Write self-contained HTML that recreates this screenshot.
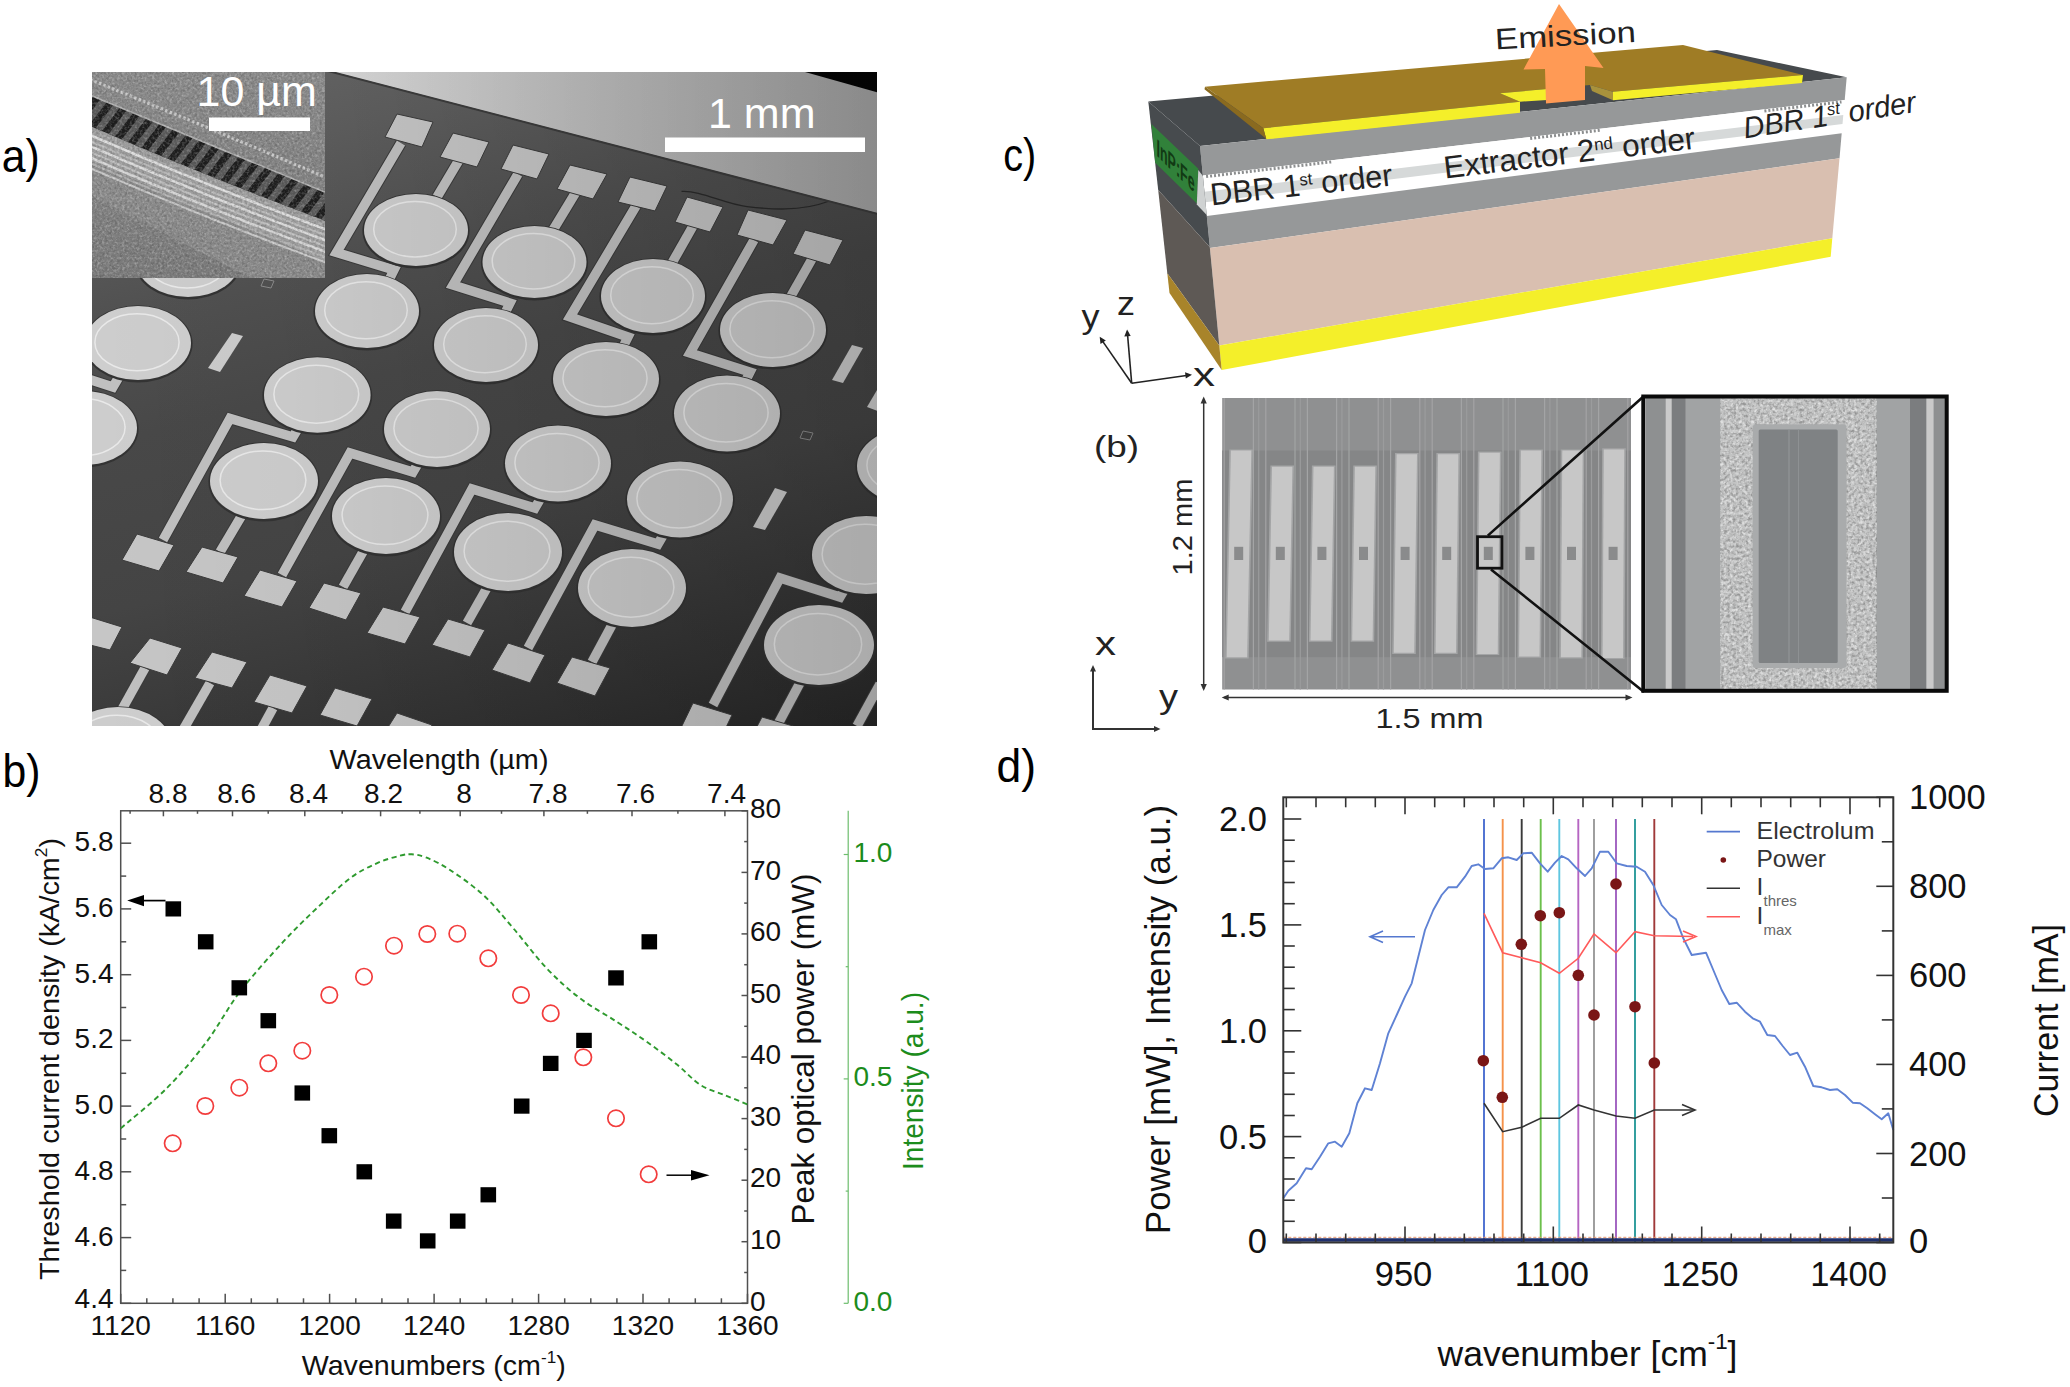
<!DOCTYPE html>
<html><head><meta charset="utf-8"><title>Figure</title>
<style>
html,body{margin:0;padding:0;background:#fff;}
body{width:2070px;height:1387px;overflow:hidden;font-family:"Liberation Sans",sans-serif;}
svg{display:block;position:absolute;left:0;top:0;}
text{font-family:"Liberation Sans",sans-serif;}
</style></head><body>
<svg width="2070" height="1387" viewBox="0 0 2070 1387">
<rect width="2070" height="1387" fill="#fff"/>
<defs>
<clipPath id="aclip"><rect x="92" y="72" width="785" height="654"/></clipPath>
<clipPath id="insclip"><rect x="92" y="72" width="233" height="206"/></clipPath>
<linearGradient id="abg" gradientUnits="userSpaceOnUse" x1="92" y1="72" x2="292" y2="872.3"><stop offset="0" stop-color="#686868"/><stop offset="0.14" stop-color="#5e5e5e"/><stop offset="0.3" stop-color="#505050"/><stop offset="0.44" stop-color="#484848"/><stop offset="0.64" stop-color="#444"/><stop offset="0.75" stop-color="#3c3c3c"/><stop offset="0.88" stop-color="#323232"/><stop offset="1" stop-color="#282828"/></linearGradient>
<linearGradient id="asub" x1="0" y1="0" x2="1" y2="0"><stop offset="0" stop-color="#dadada"/><stop offset="0.5" stop-color="#bebebe"/><stop offset="1" stop-color="#a6a6a6"/></linearGradient>
<linearGradient id="insbg" x1="0" y1="0" x2="0" y2="1"><stop offset="0" stop-color="#8a8a8a"/><stop offset="1" stop-color="#7a7a7a"/></linearGradient>
<linearGradient id="adark" x1="0" y1="0" x2="1" y2="0"><stop offset="0" stop-color="#000" stop-opacity="0"/><stop offset="0.25" stop-color="#000" stop-opacity="0.02"/><stop offset="1" stop-color="#000" stop-opacity="0.17"/></linearGradient>
<filter id="anw" x="0" y="0" width="100%" height="100%" color-interpolation-filters="sRGB"><feTurbulence type="fractalNoise" baseFrequency="0.4" numOctaves="2" seed="7"/><feColorMatrix type="matrix" values="0 0 0 0 1  0 0 0 0 1  0 0 0 0 1  2.4 0 0 0 -1.05"/></filter>
<filter id="anb" x="0" y="0" width="100%" height="100%" color-interpolation-filters="sRGB"><feTurbulence type="fractalNoise" baseFrequency="0.4" numOctaves="2" seed="19"/><feColorMatrix type="matrix" values="0 0 0 0 0.2  0 0 0 0 0.2  0 0 0 0 0.2  2.4 0 0 0 -1.05"/></filter>
</defs>
<g clip-path="url(#aclip)">
<rect x="92" y="72" width="785" height="654" fill="url(#abg)"/>
<polygon points="326.0,70.0 880.0,70.0 880.0,214.0" fill="url(#asub)" />
<polygon points="805.0,72.0 880.0,72.0 880.0,93.0" fill="#050505" />
<polyline points="459.0,160.0 437.0,197.0" fill="none" stroke="#3a3a3a" stroke-width="11.5" stroke-linejoin="miter" />
<polyline points="576.0,192.0 553.0,230.0" fill="none" stroke="#3a3a3a" stroke-width="11.5" stroke-linejoin="miter" />
<polyline points="693.0,226.0 672.0,263.0" fill="none" stroke="#3a3a3a" stroke-width="11.5" stroke-linejoin="miter" />
<polyline points="812.0,259.0 791.0,296.0" fill="none" stroke="#3a3a3a" stroke-width="11.5" stroke-linejoin="miter" />
<polyline points="401.0,143.0 336.5,252.5 394.0,270.0 388.0,282.0" fill="none" stroke="#3a3a3a" stroke-width="11.5" stroke-linejoin="miter" />
<polyline points="518.0,174.0 453.0,285.0 510.0,303.0 504.0,315.0" fill="none" stroke="#3a3a3a" stroke-width="11.5" stroke-linejoin="miter" />
<polyline points="636.0,206.0 570.0,317.0 628.0,337.0 622.0,349.0" fill="none" stroke="#3a3a3a" stroke-width="11.5" stroke-linejoin="miter" />
<polyline points="754.0,240.0 690.0,353.0 750.0,372.0 744.0,384.0" fill="none" stroke="#3a3a3a" stroke-width="11.5" stroke-linejoin="miter" />
<polyline points="220.0,552.0 242.0,515.0" fill="none" stroke="#3a3a3a" stroke-width="11.5" stroke-linejoin="miter" />
<polyline points="343.0,587.0 364.0,550.0" fill="none" stroke="#3a3a3a" stroke-width="11.5" stroke-linejoin="miter" />
<polyline points="467.0,623.0 488.0,586.0" fill="none" stroke="#3a3a3a" stroke-width="11.5" stroke-linejoin="miter" />
<polyline points="592.0,662.0 613.0,623.0" fill="none" stroke="#3a3a3a" stroke-width="11.5" stroke-linejoin="miter" />
<polyline points="777.0,726.0 801.0,681.0" fill="none" stroke="#3a3a3a" stroke-width="11.5" stroke-linejoin="miter" />
<polyline points="857.0,726.0 880.0,684.0" fill="none" stroke="#3a3a3a" stroke-width="11.5" stroke-linejoin="miter" />
<polyline points="163.0,540.0 230.0,418.5 293.0,437.0 300.0,425.0" fill="none" stroke="#3a3a3a" stroke-width="11.5" stroke-linejoin="miter" />
<polyline points="282.0,575.0 350.0,453.0 413.0,472.0 420.0,460.0" fill="none" stroke="#3a3a3a" stroke-width="11.5" stroke-linejoin="miter" />
<polyline points="405.0,612.0 472.0,489.0 535.0,508.0 542.0,496.0" fill="none" stroke="#3a3a3a" stroke-width="11.5" stroke-linejoin="miter" />
<polyline points="528.0,648.0 595.0,525.0 658.0,544.0 665.0,532.0" fill="none" stroke="#3a3a3a" stroke-width="11.5" stroke-linejoin="miter" />
<polyline points="713.0,705.0 780.0,578.0 840.0,597.0 847.0,585.0" fill="none" stroke="#3a3a3a" stroke-width="11.5" stroke-linejoin="miter" />
<polyline points="145.0,668.0 115.0,722.0" fill="none" stroke="#3a3a3a" stroke-width="11.5" stroke-linejoin="miter" />
<polyline points="210.0,683.0 183.0,730.0" fill="none" stroke="#3a3a3a" stroke-width="11.5" stroke-linejoin="miter" />
<polyline points="273.0,708.0 261.0,730.0" fill="none" stroke="#3a3a3a" stroke-width="11.5" stroke-linejoin="miter" />
<polyline points="85.0,378.0 113.0,387.0 120.0,375.0" fill="none" stroke="#3a3a3a" stroke-width="11.5" stroke-linejoin="miter" />
<polyline points="459.0,160.0 437.0,197.0" fill="none" stroke="#c0c0c0" stroke-width="9.5" stroke-linejoin="miter" />
<polyline points="576.0,192.0 553.0,230.0" fill="none" stroke="#c0c0c0" stroke-width="9.5" stroke-linejoin="miter" />
<polyline points="693.0,226.0 672.0,263.0" fill="none" stroke="#c0c0c0" stroke-width="9.5" stroke-linejoin="miter" />
<polyline points="812.0,259.0 791.0,296.0" fill="none" stroke="#c0c0c0" stroke-width="9.5" stroke-linejoin="miter" />
<polyline points="401.0,143.0 336.5,252.5 394.0,270.0 388.0,282.0" fill="none" stroke="#c0c0c0" stroke-width="9.5" stroke-linejoin="miter" />
<polyline points="518.0,174.0 453.0,285.0 510.0,303.0 504.0,315.0" fill="none" stroke="#c0c0c0" stroke-width="9.5" stroke-linejoin="miter" />
<polyline points="636.0,206.0 570.0,317.0 628.0,337.0 622.0,349.0" fill="none" stroke="#c0c0c0" stroke-width="9.5" stroke-linejoin="miter" />
<polyline points="754.0,240.0 690.0,353.0 750.0,372.0 744.0,384.0" fill="none" stroke="#c0c0c0" stroke-width="9.5" stroke-linejoin="miter" />
<polyline points="220.0,552.0 242.0,515.0" fill="none" stroke="#c0c0c0" stroke-width="9.5" stroke-linejoin="miter" />
<polyline points="343.0,587.0 364.0,550.0" fill="none" stroke="#c0c0c0" stroke-width="9.5" stroke-linejoin="miter" />
<polyline points="467.0,623.0 488.0,586.0" fill="none" stroke="#c0c0c0" stroke-width="9.5" stroke-linejoin="miter" />
<polyline points="592.0,662.0 613.0,623.0" fill="none" stroke="#c0c0c0" stroke-width="9.5" stroke-linejoin="miter" />
<polyline points="777.0,726.0 801.0,681.0" fill="none" stroke="#c0c0c0" stroke-width="9.5" stroke-linejoin="miter" />
<polyline points="857.0,726.0 880.0,684.0" fill="none" stroke="#c0c0c0" stroke-width="9.5" stroke-linejoin="miter" />
<polyline points="163.0,540.0 230.0,418.5 293.0,437.0 300.0,425.0" fill="none" stroke="#c0c0c0" stroke-width="9.5" stroke-linejoin="miter" />
<polyline points="282.0,575.0 350.0,453.0 413.0,472.0 420.0,460.0" fill="none" stroke="#c0c0c0" stroke-width="9.5" stroke-linejoin="miter" />
<polyline points="405.0,612.0 472.0,489.0 535.0,508.0 542.0,496.0" fill="none" stroke="#c0c0c0" stroke-width="9.5" stroke-linejoin="miter" />
<polyline points="528.0,648.0 595.0,525.0 658.0,544.0 665.0,532.0" fill="none" stroke="#c0c0c0" stroke-width="9.5" stroke-linejoin="miter" />
<polyline points="713.0,705.0 780.0,578.0 840.0,597.0 847.0,585.0" fill="none" stroke="#c0c0c0" stroke-width="9.5" stroke-linejoin="miter" />
<polyline points="145.0,668.0 115.0,722.0" fill="none" stroke="#c0c0c0" stroke-width="9.5" stroke-linejoin="miter" />
<polyline points="210.0,683.0 183.0,730.0" fill="none" stroke="#c0c0c0" stroke-width="9.5" stroke-linejoin="miter" />
<polyline points="273.0,708.0 261.0,730.0" fill="none" stroke="#c0c0c0" stroke-width="9.5" stroke-linejoin="miter" />
<polyline points="85.0,378.0 113.0,387.0 120.0,375.0" fill="none" stroke="#c0c0c0" stroke-width="9.5" stroke-linejoin="miter" />
<polygon points="397.0,114.0 433.0,122.0 422.0,147.0 385.0,137.0" fill="#c6c6c6" stroke="#3a3a3a" stroke-width="1"/>
<polygon points="453.0,133.0 489.0,142.0 477.0,167.0 440.0,157.0" fill="#c6c6c6" stroke="#3a3a3a" stroke-width="1"/>
<polygon points="513.0,145.0 549.0,154.0 537.0,179.0 501.0,169.0" fill="#c6c6c6" stroke="#3a3a3a" stroke-width="1"/>
<polygon points="570.0,165.0 607.0,174.0 593.0,199.0 557.0,189.0" fill="#c6c6c6" stroke="#3a3a3a" stroke-width="1"/>
<polygon points="630.0,177.0 667.0,186.0 655.0,211.0 618.0,202.0" fill="#c6c6c6" stroke="#3a3a3a" stroke-width="1"/>
<polygon points="687.0,197.0 723.0,207.0 710.0,232.0 675.0,222.0" fill="#c6c6c6" stroke="#3a3a3a" stroke-width="1"/>
<polygon points="748.0,210.0 787.0,220.0 773.0,245.0 737.0,235.0" fill="#c6c6c6" stroke="#3a3a3a" stroke-width="1"/>
<polygon points="805.0,230.0 843.0,240.0 830.0,265.0 793.0,254.0" fill="#c6c6c6" stroke="#3a3a3a" stroke-width="1"/>
<polygon points="137.0,534.0 174.0,545.0 159.0,571.0 122.0,560.0" fill="#c6c6c6" stroke="#3a3a3a" stroke-width="1"/>
<polygon points="202.0,547.0 238.0,557.0 223.0,583.0 186.0,572.0" fill="#c6c6c6" stroke="#3a3a3a" stroke-width="1"/>
<polygon points="260.0,570.0 297.0,581.0 282.0,607.0 244.0,596.0" fill="#c6c6c6" stroke="#3a3a3a" stroke-width="1"/>
<polygon points="324.0,583.0 361.0,593.0 346.0,620.0 309.0,608.0" fill="#c6c6c6" stroke="#3a3a3a" stroke-width="1"/>
<polygon points="383.0,607.0 420.0,617.0 405.0,644.0 367.0,633.0" fill="#c6c6c6" stroke="#3a3a3a" stroke-width="1"/>
<polygon points="448.0,619.0 485.0,630.0 470.0,657.0 432.0,645.0" fill="#c6c6c6" stroke="#3a3a3a" stroke-width="1"/>
<polygon points="508.0,643.0 545.0,655.0 530.0,683.0 492.0,670.0" fill="#c6c6c6" stroke="#3a3a3a" stroke-width="1"/>
<polygon points="572.0,657.0 610.0,668.0 595.0,696.0 557.0,683.0" fill="#c6c6c6" stroke="#3a3a3a" stroke-width="1"/>
<polygon points="693.0,703.0 732.0,715.0 720.0,740.0 680.0,730.0" fill="#c6c6c6" stroke="#3a3a3a" stroke-width="1"/>
<polygon points="762.0,717.0 800.0,728.0 790.0,750.0 750.0,740.0" fill="#c6c6c6" stroke="#3a3a3a" stroke-width="1"/>
<polygon points="80.0,614.0 122.0,627.0 110.0,650.0 70.0,640.0" fill="#c6c6c6" stroke="#3a3a3a" stroke-width="1"/>
<polygon points="150.0,638.0 182.0,648.0 167.0,675.0 130.0,663.0" fill="#c6c6c6" stroke="#3a3a3a" stroke-width="1"/>
<polygon points="212.0,652.0 247.0,662.0 232.0,688.0 195.0,678.0" fill="#c6c6c6" stroke="#3a3a3a" stroke-width="1"/>
<polygon points="270.0,675.0 307.0,686.0 292.0,713.0 254.0,702.0" fill="#c6c6c6" stroke="#3a3a3a" stroke-width="1"/>
<polygon points="335.0,688.0 372.0,699.0 357.0,726.0 320.0,715.0" fill="#c6c6c6" stroke="#3a3a3a" stroke-width="1"/>
<polygon points="397.0,713.0 432.0,725.0 420.0,750.0 380.0,740.0" fill="#c6c6c6" stroke="#3a3a3a" stroke-width="1"/>
<polygon points="208.0,368.0 232.0,333.0 243.0,336.0 220.0,372.0" fill="#cccccc" />
<polygon points="832.0,380.0 852.0,345.0 863.0,348.0 843.0,383.0" fill="#cccccc" />
<polygon points="753.0,527.0 775.0,488.0 787.0,492.0 765.0,530.0" fill="#cccccc" />
<polygon points="867.0,407.0 880.0,385.0 890.0,388.0 878.0,411.0" fill="#cccccc" />
<polygon points="264.0,279.0 274.0,281.0 271.0,288.0 261.0,286.0" fill="none" stroke="#8a8a8a" stroke-width="1"/>
<polygon points="803.0,431.0 813.0,433.0 810.0,440.0 800.0,438.0" fill="none" stroke="#8a8a8a" stroke-width="1"/>
<path d="M681.5,191.4 C700,190 725,204 747,206.6 S800,212 828,201.5" fill="none" stroke="#2a2a2a" stroke-width="1.3"/>
<line x1="326" y1="70.5" x2="880" y2="214.5" stroke="#3c3c3c" stroke-width="2"/>
<ellipse cx="188.0" cy="261.8" rx="53.6" ry="37.6" fill="#333"/>
<ellipse cx="188.0" cy="261.0" rx="52.0" ry="36.0" fill="#cecece"/>
<ellipse cx="187.0" cy="260.2" rx="41.3" ry="27.7" fill="#cdcdcd" stroke="#e9e9e9" stroke-width="1.5"/>
<ellipse cx="416.0" cy="230.8" rx="53.6" ry="37.6" fill="#333"/>
<ellipse cx="416.0" cy="230.0" rx="52.0" ry="36.0" fill="#cecece"/>
<ellipse cx="415.0" cy="229.2" rx="41.3" ry="27.7" fill="#cdcdcd" stroke="#e9e9e9" stroke-width="1.5"/>
<ellipse cx="534.5" cy="262.8" rx="53.6" ry="37.6" fill="#333"/>
<ellipse cx="534.5" cy="262.0" rx="52.0" ry="36.0" fill="#cecece"/>
<ellipse cx="533.5" cy="261.2" rx="41.3" ry="27.7" fill="#cdcdcd" stroke="#e9e9e9" stroke-width="1.5"/>
<ellipse cx="653.0" cy="296.8" rx="53.6" ry="38.6" fill="#333"/>
<ellipse cx="653.0" cy="296.0" rx="52.0" ry="37.0" fill="#cecece"/>
<ellipse cx="652.0" cy="295.2" rx="41.3" ry="28.5" fill="#cdcdcd" stroke="#e9e9e9" stroke-width="1.5"/>
<ellipse cx="773.0" cy="330.8" rx="54.6" ry="38.6" fill="#333"/>
<ellipse cx="773.0" cy="330.0" rx="53.0" ry="37.0" fill="#cecece"/>
<ellipse cx="772.0" cy="329.2" rx="42.1" ry="28.5" fill="#cdcdcd" stroke="#e9e9e9" stroke-width="1.5"/>
<ellipse cx="367.0" cy="311.8" rx="53.6" ry="38.6" fill="#333"/>
<ellipse cx="367.0" cy="311.0" rx="52.0" ry="37.0" fill="#cecece"/>
<ellipse cx="366.0" cy="310.2" rx="41.3" ry="28.5" fill="#cdcdcd" stroke="#e9e9e9" stroke-width="1.5"/>
<ellipse cx="486.0" cy="345.8" rx="53.6" ry="38.6" fill="#333"/>
<ellipse cx="486.0" cy="345.0" rx="52.0" ry="37.0" fill="#cecece"/>
<ellipse cx="485.0" cy="344.2" rx="41.3" ry="28.5" fill="#cdcdcd" stroke="#e9e9e9" stroke-width="1.5"/>
<ellipse cx="606.0" cy="379.8" rx="54.6" ry="38.6" fill="#333"/>
<ellipse cx="606.0" cy="379.0" rx="53.0" ry="37.0" fill="#cecece"/>
<ellipse cx="605.0" cy="378.2" rx="42.1" ry="28.5" fill="#cdcdcd" stroke="#e9e9e9" stroke-width="1.5"/>
<ellipse cx="727.0" cy="414.3" rx="54.6" ry="39.6" fill="#333"/>
<ellipse cx="727.0" cy="413.5" rx="53.0" ry="38.0" fill="#cecece"/>
<ellipse cx="726.0" cy="412.7" rx="42.1" ry="29.3" fill="#cdcdcd" stroke="#e9e9e9" stroke-width="1.5"/>
<ellipse cx="317.3" cy="395.8" rx="54.9" ry="39.3" fill="#333"/>
<ellipse cx="317.3" cy="395.0" rx="53.3" ry="37.7" fill="#cecece"/>
<ellipse cx="316.3" cy="394.2" rx="42.4" ry="29.0" fill="#cdcdcd" stroke="#e9e9e9" stroke-width="1.5"/>
<ellipse cx="437.0" cy="429.8" rx="54.6" ry="39.6" fill="#333"/>
<ellipse cx="437.0" cy="429.0" rx="53.0" ry="38.0" fill="#cecece"/>
<ellipse cx="436.0" cy="428.2" rx="42.1" ry="29.3" fill="#cdcdcd" stroke="#e9e9e9" stroke-width="1.5"/>
<ellipse cx="558.0" cy="464.3" rx="54.6" ry="39.6" fill="#333"/>
<ellipse cx="558.0" cy="463.5" rx="53.0" ry="38.0" fill="#cecece"/>
<ellipse cx="557.0" cy="462.7" rx="42.1" ry="29.3" fill="#cdcdcd" stroke="#e9e9e9" stroke-width="1.5"/>
<ellipse cx="680.0" cy="500.3" rx="54.6" ry="39.6" fill="#333"/>
<ellipse cx="680.0" cy="499.5" rx="53.0" ry="38.0" fill="#cecece"/>
<ellipse cx="679.0" cy="498.7" rx="42.1" ry="29.3" fill="#cdcdcd" stroke="#e9e9e9" stroke-width="1.5"/>
<ellipse cx="264.0" cy="481.8" rx="55.6" ry="39.6" fill="#333"/>
<ellipse cx="264.0" cy="481.0" rx="54.0" ry="38.0" fill="#cecece"/>
<ellipse cx="263.0" cy="480.2" rx="42.9" ry="29.3" fill="#cdcdcd" stroke="#e9e9e9" stroke-width="1.5"/>
<ellipse cx="386.0" cy="516.8" rx="55.6" ry="39.6" fill="#333"/>
<ellipse cx="386.0" cy="516.0" rx="54.0" ry="38.0" fill="#cecece"/>
<ellipse cx="385.0" cy="515.2" rx="42.9" ry="29.3" fill="#cdcdcd" stroke="#e9e9e9" stroke-width="1.5"/>
<ellipse cx="508.0" cy="552.8" rx="55.6" ry="40.6" fill="#333"/>
<ellipse cx="508.0" cy="552.0" rx="54.0" ry="39.0" fill="#cecece"/>
<ellipse cx="507.0" cy="551.2" rx="42.9" ry="30.0" fill="#cdcdcd" stroke="#e9e9e9" stroke-width="1.5"/>
<ellipse cx="632.0" cy="588.8" rx="55.6" ry="40.6" fill="#333"/>
<ellipse cx="632.0" cy="588.0" rx="54.0" ry="39.0" fill="#cecece"/>
<ellipse cx="631.0" cy="587.2" rx="42.9" ry="30.0" fill="#cdcdcd" stroke="#e9e9e9" stroke-width="1.5"/>
<ellipse cx="819.0" cy="645.8" rx="56.6" ry="41.6" fill="#333"/>
<ellipse cx="819.0" cy="645.0" rx="55.0" ry="40.0" fill="#cecece"/>
<ellipse cx="818.0" cy="644.2" rx="43.7" ry="30.8" fill="#cdcdcd" stroke="#e9e9e9" stroke-width="1.5"/>
<ellipse cx="138.0" cy="343.8" rx="54.6" ry="38.6" fill="#333"/>
<ellipse cx="138.0" cy="343.0" rx="53.0" ry="37.0" fill="#cecece"/>
<ellipse cx="137.0" cy="342.2" rx="42.1" ry="28.5" fill="#cdcdcd" stroke="#e9e9e9" stroke-width="1.5"/>
<ellipse cx="84.0" cy="428.8" rx="54.6" ry="38.6" fill="#333"/>
<ellipse cx="84.0" cy="428.0" rx="53.0" ry="37.0" fill="#cecece"/>
<ellipse cx="83.0" cy="427.2" rx="42.1" ry="28.5" fill="#cdcdcd" stroke="#e9e9e9" stroke-width="1.5"/>
<ellipse cx="910.0" cy="466.8" rx="54.6" ry="39.6" fill="#333"/>
<ellipse cx="910.0" cy="466.0" rx="53.0" ry="38.0" fill="#cecece"/>
<ellipse cx="909.0" cy="465.2" rx="42.1" ry="29.3" fill="#cdcdcd" stroke="#e9e9e9" stroke-width="1.5"/>
<ellipse cx="866.0" cy="555.8" rx="55.6" ry="40.6" fill="#333"/>
<ellipse cx="866.0" cy="555.0" rx="54.0" ry="39.0" fill="#cecece"/>
<ellipse cx="865.0" cy="554.2" rx="42.9" ry="30.0" fill="#cdcdcd" stroke="#e9e9e9" stroke-width="1.5"/>
<ellipse cx="118.0" cy="746.8" rx="55.6" ry="40.6" fill="#333"/>
<ellipse cx="118.0" cy="746.0" rx="54.0" ry="39.0" fill="#cecece"/>
<ellipse cx="117.0" cy="745.2" rx="42.9" ry="30.0" fill="#cdcdcd" stroke="#e9e9e9" stroke-width="1.5"/>
<rect x="92" y="72" width="785" height="654" fill="url(#adark)"/>
<g clip-path="url(#insclip)">
<rect x="92" y="72" width="233" height="206" fill="url(#insbg)"/>
<path d="M90,79.5 Q205,126 326,177.5" stroke="#c4c4c4" stroke-width="3.2" stroke-dasharray="2.6 2.2" fill="none"/>
<path d="M90,118 Q205,170 326,215 L326,262 Q205,212 90,160 Z" fill="#9c9c9c"/>
<path d="M90,160 Q205,212 326,262 L326,278 L250,278 Q160,230 90,196 Z" fill="#8e8e8e" opacity="0.7"/>
<path d="M90,135.0 Q205,185.0 326,229.5" stroke="#dcdcdc" stroke-width="2.6" fill="none"/>
<path d="M90,141.0 Q205,191.0 326,235.5" stroke="#b8b8b8" stroke-width="2" fill="none"/>
<path d="M90,146.0 Q205,196.0 326,240.5" stroke="#d8d8d8" stroke-width="2.4" fill="none"/>
<path d="M90,152.0 Q205,202.0 326,246.5" stroke="#bdbdbd" stroke-width="2" fill="none"/>
<path d="M90,157.5 Q205,207.5 326,252.0" stroke="#d4d4d4" stroke-width="2.4" fill="none"/>
<path d="M90,163.0 Q205,213.0 326,257.5" stroke="#b0b0b0" stroke-width="2" fill="none"/>
<path d="M90,168.0 Q205,218.0 326,262.5" stroke="#c6c6c6" stroke-width="2" fill="none"/>
<clipPath id="bandclip"><path d="M90,95 Q205,143 326,192.5 L326,221 Q205,176 90,126 Z"/></clipPath>
<g clip-path="url(#bandclip)"><rect x="90" y="90" width="240" height="140" fill="#1c1c1c"/>
<polygon points="63.0,80 71.5,80 -51.5,240 -60.0,240" fill="#5a5a5a"/>
<polygon points="80.4,80 88.9,80 -34.1,240 -42.6,240" fill="#5a5a5a"/>
<polygon points="97.8,80 106.3,80 -16.7,240 -25.2,240" fill="#5a5a5a"/>
<polygon points="115.2,80 123.7,80 0.7,240 -7.8,240" fill="#5a5a5a"/>
<polygon points="132.6,80 141.1,80 18.1,240 9.6,240" fill="#5a5a5a"/>
<polygon points="150.0,80 158.5,80 35.5,240 27.0,240" fill="#5a5a5a"/>
<polygon points="167.4,80 175.9,80 52.9,240 44.4,240" fill="#5a5a5a"/>
<polygon points="184.8,80 193.3,80 70.3,240 61.8,240" fill="#5a5a5a"/>
<polygon points="202.2,80 210.7,80 87.7,240 79.2,240" fill="#5a5a5a"/>
<polygon points="219.6,80 228.1,80 105.1,240 96.6,240" fill="#5a5a5a"/>
<polygon points="237.0,80 245.5,80 122.5,240 114.0,240" fill="#5a5a5a"/>
<polygon points="254.4,80 262.9,80 139.9,240 131.4,240" fill="#5a5a5a"/>
<polygon points="271.8,80 280.3,80 157.3,240 148.8,240" fill="#5a5a5a"/>
<polygon points="289.2,80 297.7,80 174.7,240 166.2,240" fill="#5a5a5a"/>
<polygon points="306.6,80 315.1,80 192.1,240 183.6,240" fill="#5a5a5a"/>
<polygon points="324.0,80 332.5,80 209.5,240 201.0,240" fill="#5a5a5a"/>
<polygon points="341.4,80 349.9,80 226.9,240 218.4,240" fill="#5a5a5a"/>
<polygon points="358.8,80 367.3,80 244.3,240 235.8,240" fill="#5a5a5a"/>
<polygon points="376.2,80 384.7,80 261.7,240 253.2,240" fill="#5a5a5a"/>
<polygon points="393.6,80 402.1,80 279.1,240 270.6,240" fill="#5a5a5a"/>
<polygon points="411.0,80 419.5,80 296.5,240 288.0,240" fill="#5a5a5a"/>
<polygon points="428.4,80 436.9,80 313.9,240 305.4,240" fill="#5a5a5a"/>
<polygon points="445.8,80 454.3,80 331.3,240 322.8,240" fill="#5a5a5a"/>
</g>
<path d="M90,95 Q205,143 326,192.5" stroke="#b0b0b0" stroke-width="1.6" fill="none"/>
<rect x="92" y="72" width="233" height="206" fill="#fff" filter="url(#anw)" opacity="0.28"/>
<rect x="92" y="72" width="233" height="206" fill="#000" filter="url(#anb)" opacity="0.28"/>
</g>
</g>
<rect x="209" y="117.5" width="101" height="13.5" fill="#fff"/>
<text x="196.5" y="106" font-size="43" fill="#fff">10 µm</text>
<rect x="665" y="137.5" width="200" height="14.5" fill="#fff"/>
<text x="708" y="127.5" font-size="43" fill="#fff">1 mm</text>
<text x="1.8" y="171.5" font-size="47" fill="#000" textLength="38" lengthAdjust="spacingAndGlyphs">a)</text>
<defs><filter id="nzw" x="0" y="0" width="100%" height="100%" color-interpolation-filters="sRGB"><feTurbulence type="fractalNoise" baseFrequency="0.33" numOctaves="2" seed="4"/><feColorMatrix type="matrix" values="0 0 0 0 1  0 0 0 0 1  0 0 0 0 1  2.6 0 0 0 -1.1"/></filter><filter id="nzb" x="0" y="0" width="100%" height="100%" color-interpolation-filters="sRGB"><feTurbulence type="fractalNoise" baseFrequency="0.33" numOctaves="2" seed="11"/><feColorMatrix type="matrix" values="0 0 0 0 0.35  0 0 0 0 0.35  0 0 0 0 0.35  2.6 0 0 0 -1.1"/></filter></defs>
<polygon points="1148.3,101.4 1200.0,146.0 1846.7,77.3 1717.0,50.0" fill="#464a4d" />
<polygon points="1200.0,146.0 1846.7,77.3 1844.7,100.0 1202.9,175.5" fill="#969899" />
<polygon points="1202.9,175.5 1844.7,100.0 1841.7,133.3 1206.8,216.0" fill="#ffffff" />
<polygon points="1206.8,216.0 1841.7,133.3 1839.5,158.3 1209.9,248.0" fill="#969899" />
<polygon points="1209.9,248.0 1839.5,158.3 1832.3,238.3 1219.3,345.5" fill="#d9bfb0" />
<polygon points="1219.3,345.5 1832.3,238.3 1830.7,256.7 1221.7,370.0" fill="#f4ef2a" />
<polygon points="1204.4,191.7 1843.3,115.0 1842.5,124.0 1205.4,202.2" fill="#d6d9d9" />
<line x1="1206.1" y1="176.6" x2="1331.2" y2="161.9" stroke="#8c8e8f" stroke-width="3" stroke-dasharray="2 2"/>
<line x1="1530.2" y1="138.5" x2="1600.8" y2="130.2" stroke="#8c8e8f" stroke-width="3" stroke-dasharray="2 2"/>
<line x1="1764.4" y1="110.9" x2="1841.5" y2="101.9" stroke="#8c8e8f" stroke-width="3" stroke-dasharray="2 2"/>
<polygon points="1148.3,101.4 1200.0,146.0 1209.8,247.0 1158.2,190.0" fill="#474b4e" />
<polygon points="1151.4,124.1 1198.3,168.8 1196.8,203.6 1155.2,162.7" fill="#31813a" />
<polygon points="1198.3,170.0 1202.9,176.0 1206.7,215.0 1196.8,204.5" fill="#cfd2d2" />
<polygon points="1158.2,190.0 1209.8,247.0 1219.3,345.5 1167.3,273.3" fill="#5e5955" />
<polygon points="1167.3,273.3 1219.3,345.5 1221.7,370.0 1169.5,293.0" fill="#a8842a" />
<polygon points="1205.0,86.7 1263.3,128.3 1520.0,101.7 1500.0,93.3 1590.0,85.0 1613.0,91.7 1803.0,75.0 1683.0,45.0" fill="#9f7c25" />
<polygon points="1263.3,128.3 1520.0,101.7 1520.0,112.7 1266.3,139.3" fill="#f4ef2a" />
<polygon points="1205.0,86.7 1263.3,128.3 1266.3,139.3 1264.3,137.3 1204.5,89.2" fill="#8a6a1f" />
<polygon points="1613.0,91.7 1803.0,75.0 1802.0,83.0 1613.0,100.2" fill="#f4ef2a" />
<polygon points="1500.0,93.3 1547.0,89.0 1547.0,100.0 1520.0,101.7" fill="#f4ef2a" />
<polygon points="1590.0,85.0 1613.0,91.7 1613.0,100.2 1592.0,91.0" fill="#a8923c" />
<polygon points="1559.0,4.0 1603.5,68.0 1585.0,66.0 1585.0,100.0 1546.0,103.5 1545.0,69.0 1523.5,69.5" fill="#ff9a55" />
<text x="1495.5" y="49.5" font-size="29.5" fill="#222" transform="rotate(-3.1 1495.5 49.5)" textLength="141" lengthAdjust="spacingAndGlyphs" >Emission</text>
<text x="1211.5" y="205.5" font-size="31.5" fill="#222" transform="rotate(-6.3 1211.5 205.5)" textLength="183" lengthAdjust="spacingAndGlyphs" >DBR 1<tspan font-size="17" dy="-10">st</tspan><tspan dy="10"> </tspan>order</text>
<text x="1445" y="178.5" font-size="31.5" fill="#222" transform="rotate(-6.8 1445 178.5)" textLength="253" lengthAdjust="spacingAndGlyphs" >Extractor 2<tspan font-size="17" dy="-10">nd</tspan><tspan dy="10"> </tspan>order</text>
<text x="1745" y="138.5" font-size="30" fill="#222" transform="rotate(-8.8 1745 138.5)" textLength="174" lengthAdjust="spacingAndGlyphs" font-style="italic">DBR 1<tspan font-size="17" dy="-10">st</tspan><tspan dy="10"> </tspan>order</text>
<text transform="translate(1156.5 155.5) skewY(44.5) scale(0.5 1)" font-size="25" font-weight="bold" fill="#123a14">InP:Fe</text>
<line x1="1131.7" y1="383.3" x2="1190.0" y2="375.0" stroke="#222" stroke-width="1.6" fill="none"/>
<line x1="1131.7" y1="383.3" x2="1127.3" y2="331.7" stroke="#222" stroke-width="1.6" fill="none"/>
<line x1="1131.7" y1="383.3" x2="1100.8" y2="338.6" stroke="#222" stroke-width="1.6" fill="none"/>
<polygon points="1192.0,374.7 1185.0,372.2 1185.8,378.6" fill="#222" />
<polygon points="1127.1,329.5 1124.3,336.5 1130.7,336.0" fill="#222" />
<polygon points="1099.7,336.7 1100.5,344.0 1105.8,340.5" fill="#222" />
<text x="1193" y="385.5" font-size="33" fill="#222" textLength="22" lengthAdjust="spacingAndGlyphs">x</text>
<text x="1117" y="315" font-size="33" fill="#222" textLength="18" lengthAdjust="spacingAndGlyphs">z</text>
<text x="1081.5" y="328" font-size="33" fill="#222" textLength="18" lengthAdjust="spacingAndGlyphs">y</text>
<text x="1003.3" y="171" font-size="47" fill="#000" textLength="33" lengthAdjust="spacingAndGlyphs">c)</text>
<rect x="1222.2" y="398.0" width="408.8" height="291.5" fill="#8f9091"/>
<rect x="1222.2" y="450.5" width="408.8" height="206.7" fill="#858687"/>
<rect x="1223.6" y="398.0" width="1.2" height="291.5" fill="#a3a4a5"/>
<rect x="1252.8" y="398.0" width="1.2" height="291.5" fill="#a3a4a5"/>
<rect x="1258.1" y="398.0" width="1.2" height="291.5" fill="#9b9c9d"/>
<rect x="1265.2" y="398.0" width="1.2" height="291.5" fill="#a3a4a5"/>
<rect x="1294.4" y="398.0" width="1.2" height="291.5" fill="#a3a4a5"/>
<rect x="1299.7" y="398.0" width="1.2" height="291.5" fill="#9b9c9d"/>
<rect x="1306.8" y="398.0" width="1.2" height="291.5" fill="#a3a4a5"/>
<rect x="1336.0" y="398.0" width="1.2" height="291.5" fill="#a3a4a5"/>
<rect x="1341.3" y="398.0" width="1.2" height="291.5" fill="#9b9c9d"/>
<rect x="1348.4" y="398.0" width="1.2" height="291.5" fill="#a3a4a5"/>
<rect x="1377.6" y="398.0" width="1.2" height="291.5" fill="#a3a4a5"/>
<rect x="1382.9" y="398.0" width="1.2" height="291.5" fill="#9b9c9d"/>
<rect x="1390.0" y="398.0" width="1.2" height="291.5" fill="#a3a4a5"/>
<rect x="1419.2" y="398.0" width="1.2" height="291.5" fill="#a3a4a5"/>
<rect x="1424.5" y="398.0" width="1.2" height="291.5" fill="#9b9c9d"/>
<rect x="1431.6" y="398.0" width="1.2" height="291.5" fill="#a3a4a5"/>
<rect x="1460.8" y="398.0" width="1.2" height="291.5" fill="#a3a4a5"/>
<rect x="1466.1" y="398.0" width="1.2" height="291.5" fill="#9b9c9d"/>
<rect x="1473.2" y="398.0" width="1.2" height="291.5" fill="#a3a4a5"/>
<rect x="1502.4" y="398.0" width="1.2" height="291.5" fill="#a3a4a5"/>
<rect x="1507.7" y="398.0" width="1.2" height="291.5" fill="#9b9c9d"/>
<rect x="1514.8" y="398.0" width="1.2" height="291.5" fill="#a3a4a5"/>
<rect x="1544.0" y="398.0" width="1.2" height="291.5" fill="#a3a4a5"/>
<rect x="1549.3" y="398.0" width="1.2" height="291.5" fill="#9b9c9d"/>
<rect x="1556.4" y="398.0" width="1.2" height="291.5" fill="#a3a4a5"/>
<rect x="1585.6" y="398.0" width="1.2" height="291.5" fill="#a3a4a5"/>
<rect x="1590.9" y="398.0" width="1.2" height="291.5" fill="#9b9c9d"/>
<rect x="1598.0" y="398.0" width="1.2" height="291.5" fill="#a3a4a5"/>
<rect x="1627.2" y="398.0" width="1.2" height="291.5" fill="#a3a4a5"/>
<polygon points="1229.3,449.4 1252.9,449.4 1248.7,658.4 1225.1,658.4" fill="#a4a5a6"/>
<polygon points="1230.9,450.6 1251.3,450.6 1247.1,657.2 1226.7,657.2" fill="#c7c7c7"/>
<rect x="1234.2" y="546.8" width="9" height="13.2" fill="#8a8b8c"/>
<polygon points="1270.4,465.6 1294.0,465.6 1290.7,641.8 1267.1,641.8" fill="#a4a5a6"/>
<polygon points="1272.0,466.8 1292.4,466.8 1289.2,640.6 1268.8,640.6" fill="#c7c7c7"/>
<rect x="1275.8" y="546.8" width="9" height="13.2" fill="#8a8b8c"/>
<polygon points="1311.9,465.6 1335.5,465.6 1332.5,641.8 1308.9,641.8" fill="#a4a5a6"/>
<polygon points="1313.5,466.8 1333.9,466.8 1330.9,640.6 1310.5,640.6" fill="#c7c7c7"/>
<rect x="1317.4" y="546.8" width="9" height="13.2" fill="#8a8b8c"/>
<polygon points="1353.3,465.6 1376.9,465.6 1374.2,641.8 1350.6,641.8" fill="#a4a5a6"/>
<polygon points="1354.9,466.8 1375.3,466.8 1372.6,640.6 1352.2,640.6" fill="#c7c7c7"/>
<rect x="1359.0" y="546.8" width="9" height="13.2" fill="#8a8b8c"/>
<polygon points="1395.0,453.1 1418.6,453.1 1415.8,654.0 1392.2,654.0" fill="#a4a5a6"/>
<polygon points="1396.6,454.3 1417.0,454.3 1414.2,652.8 1393.8,652.8" fill="#c7c7c7"/>
<rect x="1400.6" y="546.8" width="9" height="13.2" fill="#8a8b8c"/>
<polygon points="1436.4,453.1 1460.0,453.1 1457.6,654.0 1434.0,654.0" fill="#a4a5a6"/>
<polygon points="1438.0,454.3 1458.4,454.3 1456.0,652.8 1435.6,652.8" fill="#c7c7c7"/>
<rect x="1442.2" y="546.8" width="9" height="13.2" fill="#8a8b8c"/>
<polygon points="1477.9,451.6 1501.5,451.6 1499.3,655.1 1475.7,655.1" fill="#a4a5a6"/>
<polygon points="1479.5,452.8 1499.9,452.8 1497.7,653.9 1477.3,653.9" fill="#c7c7c7"/>
<rect x="1483.8" y="546.8" width="9" height="13.2" fill="#8a8b8c"/>
<polygon points="1519.3,449.4 1542.9,449.4 1541.1,657.8 1517.5,657.8" fill="#a4a5a6"/>
<polygon points="1520.9,450.6 1541.3,450.6 1539.5,656.6 1519.1,656.6" fill="#c7c7c7"/>
<rect x="1525.4" y="546.8" width="9" height="13.2" fill="#8a8b8c"/>
<polygon points="1560.7,449.4 1584.3,449.4 1582.8,658.4 1559.2,658.4" fill="#a4a5a6"/>
<polygon points="1562.3,450.6 1582.7,450.6 1581.3,657.2 1560.9,657.2" fill="#c7c7c7"/>
<rect x="1567.0" y="546.8" width="9" height="13.2" fill="#8a8b8c"/>
<polygon points="1602.2,448.2 1625.8,448.2 1624.6,659.1 1601.0,659.1" fill="#a4a5a6"/>
<polygon points="1603.8,449.4 1624.2,449.4 1623.0,657.9 1602.6,657.9" fill="#c7c7c7"/>
<rect x="1608.6" y="546.8" width="9" height="13.2" fill="#8a8b8c"/>
<rect x="1477.5" y="536.7" width="24.5" height="31.5" fill="none" stroke="#111" stroke-width="2.8"/>
<path d="M1487.8,535.6 L1644,396 M1491,569.4 L1644,692" stroke="#111" stroke-width="2.6" fill="none"/>
<rect x="1645.7" y="395.8" width="20.3" height="296.0" fill="#8e9091"/>
<rect x="1665.7" y="395.8" width="6.4" height="296.0" fill="#cacaca"/>
<rect x="1671.7" y="395.8" width="14.2" height="296.0" fill="#7b7d7f"/>
<rect x="1685.7" y="395.8" width="35.1" height="296.0" fill="#a1a3a4"/>
<rect x="1720.4" y="395.8" width="156.0" height="296.0" fill="#c2c3c3"/>
<rect x="1876.1" y="395.8" width="34.2" height="296.0" fill="#a1a3a4"/>
<rect x="1910.0" y="395.8" width="16.8" height="296.0" fill="#7b7d7f"/>
<rect x="1926.5" y="395.8" width="7.3" height="296.0" fill="#cacaca"/>
<rect x="1933.5" y="395.8" width="11.6" height="296.0" fill="#8e9091"/>
<rect x="1720.4" y="395.8" width="155.7" height="296.0" fill="#fff" filter="url(#nzw)" opacity="0.55"/>
<rect x="1720.4" y="395.8" width="155.7" height="296.0" fill="#000" filter="url(#nzb)" opacity="0.45"/>
<rect x="1752.6" y="424.3" width="94" height="243.7" rx="3.5" fill="#a9abac"/>
<rect x="1758.7" y="429.6" width="79" height="233.5" rx="1.5" fill="#7f8284"/>
<rect x="1788.5" y="429.6" width="1" height="233.5" fill="#95989a"/>
<rect x="1798" y="429.6" width="1" height="233.5" fill="#8e9193"/>
<rect x="1643.3" y="396.5" width="303.4" height="294.3" fill="none" stroke="#0a0a0a" stroke-width="4"/>
<line x1="1203.7" y1="399" x2="1203.7" y2="689" stroke="#333" stroke-width="1.5" fill="none"/>
<polygon points="1203.7,396.5 1200.6,403.5 1206.8,403.5" fill="#333" />
<polygon points="1203.7,691.0 1200.6,684.0 1206.8,684.0" fill="#333" />
<line x1="1224" y1="697.6" x2="1630" y2="697.6" stroke="#333" stroke-width="1.5" fill="none"/>
<polygon points="1221.7,697.6 1228.7,694.6 1228.7,700.6" fill="#333" />
<polygon points="1632.5,697.6 1625.5,694.6 1625.5,700.6" fill="#333" />
<text x="1375.5" y="727.5" font-size="28.5" fill="#222" textLength="108" lengthAdjust="spacingAndGlyphs">1.5 mm</text>
<text x="1192" y="575.5" font-size="28.5" fill="#222" transform="rotate(-90 1192 575.5)" textLength="97" lengthAdjust="spacingAndGlyphs">1.2 mm</text>
<text x="1094" y="457" font-size="30" fill="#222" textLength="45" lengthAdjust="spacingAndGlyphs">(b)</text>
<path d="M1093,667 L1093,729 L1158,729" stroke="#333" stroke-width="2" fill="none"/>
<polygon points="1093.0,665.0 1090.0,671.5 1096.0,671.5" fill="#333" />
<polygon points="1160.5,729.0 1154.0,726.0 1154.0,732.0" fill="#333" />
<text x="1095" y="655" font-size="33" fill="#222" textLength="21" lengthAdjust="spacingAndGlyphs">x</text>
<text x="1159" y="708" font-size="33" fill="#222" textLength="19" lengthAdjust="spacingAndGlyphs">y</text>
<rect x="120.7" y="810.8" width="626.8" height="492.5" fill="none" stroke="#505050" stroke-width="1.5"/>
<line x1="120.7" y1="1303.3" x2="131.2" y2="1303.3" stroke="#505050" stroke-width="1.5"/>
<text x="113.5" y="1308.3" font-size="28" text-anchor="end" fill="#111">4.4</text>
<line x1="120.7" y1="1270.4" x2="126.2" y2="1270.4" stroke="#505050" stroke-width="1.5"/>
<line x1="120.7" y1="1237.6" x2="131.2" y2="1237.6" stroke="#505050" stroke-width="1.5"/>
<text x="113.5" y="1245.6" font-size="28" text-anchor="end" fill="#111">4.6</text>
<line x1="120.7" y1="1204.7" x2="126.2" y2="1204.7" stroke="#505050" stroke-width="1.5"/>
<line x1="120.7" y1="1171.8" x2="131.2" y2="1171.8" stroke="#505050" stroke-width="1.5"/>
<text x="113.5" y="1179.8" font-size="28" text-anchor="end" fill="#111">4.8</text>
<line x1="120.7" y1="1139.0" x2="126.2" y2="1139.0" stroke="#505050" stroke-width="1.5"/>
<line x1="120.7" y1="1106.1" x2="131.2" y2="1106.1" stroke="#505050" stroke-width="1.5"/>
<text x="113.5" y="1114.1" font-size="28" text-anchor="end" fill="#111">5.0</text>
<line x1="120.7" y1="1073.3" x2="126.2" y2="1073.3" stroke="#505050" stroke-width="1.5"/>
<line x1="120.7" y1="1040.4" x2="131.2" y2="1040.4" stroke="#505050" stroke-width="1.5"/>
<text x="113.5" y="1048.4" font-size="28" text-anchor="end" fill="#111">5.2</text>
<line x1="120.7" y1="1007.5" x2="126.2" y2="1007.5" stroke="#505050" stroke-width="1.5"/>
<line x1="120.7" y1="974.7" x2="131.2" y2="974.7" stroke="#505050" stroke-width="1.5"/>
<text x="113.5" y="982.7" font-size="28" text-anchor="end" fill="#111">5.4</text>
<line x1="120.7" y1="941.8" x2="126.2" y2="941.8" stroke="#505050" stroke-width="1.5"/>
<line x1="120.7" y1="908.9" x2="131.2" y2="908.9" stroke="#505050" stroke-width="1.5"/>
<text x="113.5" y="916.9" font-size="28" text-anchor="end" fill="#111">5.6</text>
<line x1="120.7" y1="876.1" x2="126.2" y2="876.1" stroke="#505050" stroke-width="1.5"/>
<line x1="120.7" y1="843.2" x2="131.2" y2="843.2" stroke="#505050" stroke-width="1.5"/>
<text x="113.5" y="851.2" font-size="28" text-anchor="end" fill="#111">5.8</text>
<line x1="120.7" y1="1303.3" x2="120.7" y2="1293.8" stroke="#505050" stroke-width="1.5"/>
<text x="120.7" y="1335" font-size="28" text-anchor="middle" fill="#111">1120</text>
<line x1="146.8" y1="1303.3" x2="146.8" y2="1298.3" stroke="#505050" stroke-width="1.5"/>
<line x1="172.9" y1="1303.3" x2="172.9" y2="1298.3" stroke="#505050" stroke-width="1.5"/>
<line x1="199.1" y1="1303.3" x2="199.1" y2="1298.3" stroke="#505050" stroke-width="1.5"/>
<line x1="225.2" y1="1303.3" x2="225.2" y2="1293.8" stroke="#505050" stroke-width="1.5"/>
<text x="225.2" y="1335" font-size="28" text-anchor="middle" fill="#111">1160</text>
<line x1="251.3" y1="1303.3" x2="251.3" y2="1298.3" stroke="#505050" stroke-width="1.5"/>
<line x1="277.4" y1="1303.3" x2="277.4" y2="1298.3" stroke="#505050" stroke-width="1.5"/>
<line x1="303.5" y1="1303.3" x2="303.5" y2="1298.3" stroke="#505050" stroke-width="1.5"/>
<line x1="329.6" y1="1303.3" x2="329.6" y2="1293.8" stroke="#505050" stroke-width="1.5"/>
<text x="329.6" y="1335" font-size="28" text-anchor="middle" fill="#111">1200</text>
<line x1="355.8" y1="1303.3" x2="355.8" y2="1298.3" stroke="#505050" stroke-width="1.5"/>
<line x1="381.9" y1="1303.3" x2="381.9" y2="1298.3" stroke="#505050" stroke-width="1.5"/>
<line x1="408.0" y1="1303.3" x2="408.0" y2="1298.3" stroke="#505050" stroke-width="1.5"/>
<line x1="434.1" y1="1303.3" x2="434.1" y2="1293.8" stroke="#505050" stroke-width="1.5"/>
<text x="434.1" y="1335" font-size="28" text-anchor="middle" fill="#111">1240</text>
<line x1="460.2" y1="1303.3" x2="460.2" y2="1298.3" stroke="#505050" stroke-width="1.5"/>
<line x1="486.3" y1="1303.3" x2="486.3" y2="1298.3" stroke="#505050" stroke-width="1.5"/>
<line x1="512.4" y1="1303.3" x2="512.4" y2="1298.3" stroke="#505050" stroke-width="1.5"/>
<line x1="538.6" y1="1303.3" x2="538.6" y2="1293.8" stroke="#505050" stroke-width="1.5"/>
<text x="538.6" y="1335" font-size="28" text-anchor="middle" fill="#111">1280</text>
<line x1="564.7" y1="1303.3" x2="564.7" y2="1298.3" stroke="#505050" stroke-width="1.5"/>
<line x1="590.8" y1="1303.3" x2="590.8" y2="1298.3" stroke="#505050" stroke-width="1.5"/>
<line x1="616.9" y1="1303.3" x2="616.9" y2="1298.3" stroke="#505050" stroke-width="1.5"/>
<line x1="643.0" y1="1303.3" x2="643.0" y2="1293.8" stroke="#505050" stroke-width="1.5"/>
<text x="643.0" y="1335" font-size="28" text-anchor="middle" fill="#111">1320</text>
<line x1="669.1" y1="1303.3" x2="669.1" y2="1298.3" stroke="#505050" stroke-width="1.5"/>
<line x1="695.3" y1="1303.3" x2="695.3" y2="1298.3" stroke="#505050" stroke-width="1.5"/>
<line x1="721.4" y1="1303.3" x2="721.4" y2="1298.3" stroke="#505050" stroke-width="1.5"/>
<line x1="747.5" y1="1303.3" x2="747.5" y2="1293.8" stroke="#505050" stroke-width="1.5"/>
<text x="747.5" y="1335" font-size="28" text-anchor="middle" fill="#111">1360</text>
<line x1="747.5" y1="1303.3" x2="741.5" y2="1303.3" stroke="#505050" stroke-width="1.5"/>
<text x="750" y="1310.5" font-size="28" fill="#111">0</text>
<line x1="747.5" y1="1272.5" x2="744.2" y2="1272.5" stroke="#505050" stroke-width="1.5"/>
<line x1="747.5" y1="1241.7" x2="741.5" y2="1241.7" stroke="#505050" stroke-width="1.5"/>
<text x="750" y="1248.9" font-size="28" fill="#111">10</text>
<line x1="747.5" y1="1211.0" x2="744.2" y2="1211.0" stroke="#505050" stroke-width="1.5"/>
<line x1="747.5" y1="1180.2" x2="741.5" y2="1180.2" stroke="#505050" stroke-width="1.5"/>
<text x="750" y="1187.4" font-size="28" fill="#111">20</text>
<line x1="747.5" y1="1149.4" x2="744.2" y2="1149.4" stroke="#505050" stroke-width="1.5"/>
<line x1="747.5" y1="1118.6" x2="741.5" y2="1118.6" stroke="#505050" stroke-width="1.5"/>
<text x="750" y="1125.8" font-size="28" fill="#111">30</text>
<line x1="747.5" y1="1087.8" x2="744.2" y2="1087.8" stroke="#505050" stroke-width="1.5"/>
<line x1="747.5" y1="1057.0" x2="741.5" y2="1057.0" stroke="#505050" stroke-width="1.5"/>
<text x="750" y="1064.2" font-size="28" fill="#111">40</text>
<line x1="747.5" y1="1026.3" x2="744.2" y2="1026.3" stroke="#505050" stroke-width="1.5"/>
<line x1="747.5" y1="995.5" x2="741.5" y2="995.5" stroke="#505050" stroke-width="1.5"/>
<text x="750" y="1002.7" font-size="28" fill="#111">50</text>
<line x1="747.5" y1="964.7" x2="744.2" y2="964.7" stroke="#505050" stroke-width="1.5"/>
<line x1="747.5" y1="933.9" x2="741.5" y2="933.9" stroke="#505050" stroke-width="1.5"/>
<text x="750" y="941.1" font-size="28" fill="#111">60</text>
<line x1="747.5" y1="903.1" x2="744.2" y2="903.1" stroke="#505050" stroke-width="1.5"/>
<line x1="747.5" y1="872.4" x2="741.5" y2="872.4" stroke="#505050" stroke-width="1.5"/>
<text x="750" y="879.6" font-size="28" fill="#111">70</text>
<line x1="747.5" y1="841.6" x2="744.2" y2="841.6" stroke="#505050" stroke-width="1.5"/>
<line x1="747.5" y1="810.8" x2="741.5" y2="810.8" stroke="#505050" stroke-width="1.5"/>
<text x="750" y="817.8" font-size="28" fill="#111">80</text>
<line x1="130.1" y1="810.8" x2="130.1" y2="813.8" stroke="#505050" stroke-width="1.5"/>
<line x1="163.4" y1="810.8" x2="163.4" y2="816.3" stroke="#505050" stroke-width="1.5"/>
<line x1="197.5" y1="810.8" x2="197.5" y2="813.8" stroke="#505050" stroke-width="1.5"/>
<line x1="232.5" y1="810.8" x2="232.5" y2="816.3" stroke="#505050" stroke-width="1.5"/>
<line x1="268.2" y1="810.8" x2="268.2" y2="813.8" stroke="#505050" stroke-width="1.5"/>
<line x1="304.8" y1="810.8" x2="304.8" y2="816.3" stroke="#505050" stroke-width="1.5"/>
<line x1="342.2" y1="810.8" x2="342.2" y2="813.8" stroke="#505050" stroke-width="1.5"/>
<line x1="380.6" y1="810.8" x2="380.6" y2="816.3" stroke="#505050" stroke-width="1.5"/>
<line x1="419.9" y1="810.8" x2="419.9" y2="813.8" stroke="#505050" stroke-width="1.5"/>
<line x1="460.2" y1="810.8" x2="460.2" y2="816.3" stroke="#505050" stroke-width="1.5"/>
<line x1="501.5" y1="810.8" x2="501.5" y2="813.8" stroke="#505050" stroke-width="1.5"/>
<line x1="543.9" y1="810.8" x2="543.9" y2="816.3" stroke="#505050" stroke-width="1.5"/>
<line x1="587.4" y1="810.8" x2="587.4" y2="813.8" stroke="#505050" stroke-width="1.5"/>
<line x1="632.0" y1="810.8" x2="632.0" y2="816.3" stroke="#505050" stroke-width="1.5"/>
<line x1="677.9" y1="810.8" x2="677.9" y2="813.8" stroke="#505050" stroke-width="1.5"/>
<line x1="724.9" y1="810.8" x2="724.9" y2="816.3" stroke="#505050" stroke-width="1.5"/>
<text x="168.0" y="803.3" font-size="28" text-anchor="middle" fill="#111">8.8</text>
<text x="236.7" y="803.3" font-size="28" text-anchor="middle" fill="#111">8.6</text>
<text x="308.5" y="803.3" font-size="28" text-anchor="middle" fill="#111">8.4</text>
<text x="383.5" y="803.3" font-size="28" text-anchor="middle" fill="#111">8.2</text>
<text x="464.0" y="803.3" font-size="28" text-anchor="middle" fill="#111">8</text>
<text x="548.0" y="803.3" font-size="28" text-anchor="middle" fill="#111">7.8</text>
<text x="635.5" y="803.3" font-size="28" text-anchor="middle" fill="#111">7.6</text>
<text x="746" y="803.3" font-size="28" text-anchor="end" fill="#111">7.4</text>
<text x="329.5" y="768.5" font-size="27" fill="#111" textLength="219" lengthAdjust="spacingAndGlyphs">Wavelength (µm)</text>
<text x="301.7" y="1375" font-size="28.5" fill="#111" textLength="264" lengthAdjust="spacingAndGlyphs">Wavenumbers (cm<tspan font-size="17" dy="-12">-1</tspan><tspan dy="12">)</tspan></text>
<text transform="translate(58.5 1280) rotate(-90)" font-size="28.5" fill="#111" textLength="442" lengthAdjust="spacingAndGlyphs">Threshold current density (kA/cm<tspan font-size="17" dy="-12">2</tspan><tspan dy="12">)</tspan></text>
<text transform="translate(814 1224.5) rotate(-90)" font-size="31.5" fill="#111" textLength="351" lengthAdjust="spacingAndGlyphs">Peak optical power (mW)</text>
<line x1="848.2" y1="810.8" x2="848.2" y2="1303.3" stroke="#6dbd6d" stroke-width="1.2"/>
<line x1="848.2" y1="1303.3" x2="843.7" y2="1303.3" stroke="#6dbd6d" stroke-width="1.2"/>
<text x="853.5" y="1310.8" font-size="28" fill="#1c8c1c">0.0</text>
<line x1="848.2" y1="1191.1" x2="845.7" y2="1191.1" stroke="#6dbd6d" stroke-width="1.2"/>
<line x1="848.2" y1="1078.9" x2="843.7" y2="1078.9" stroke="#6dbd6d" stroke-width="1.2"/>
<text x="853.5" y="1086.4" font-size="28" fill="#1c8c1c">0.5</text>
<line x1="848.2" y1="966.7" x2="845.7" y2="966.7" stroke="#6dbd6d" stroke-width="1.2"/>
<line x1="848.2" y1="854.5" x2="843.7" y2="854.5" stroke="#6dbd6d" stroke-width="1.2"/>
<text x="853.5" y="862.0" font-size="28" fill="#1c8c1c">1.0</text>
<text transform="translate(922.5 1170) rotate(-90)" font-size="29.5" fill="#1c8c1c" textLength="178" lengthAdjust="spacingAndGlyphs">Intensity (a.u.)</text>
<path d="M120.7,1128.3 C128.4,1121.6 152.4,1102.7 166.7,1088.3 C181.0,1073.9 194.5,1057.8 206.7,1041.7 C218.9,1025.6 227.2,1008.4 240.0,991.7 C252.8,975.0 270.5,955.6 283.3,941.7 C296.1,927.8 305.6,918.9 316.7,908.3 C327.8,897.7 340.0,885.8 350.0,878.3 C360.0,870.8 368.4,867.1 376.7,863.3 C385.0,859.5 394.2,857.2 400.0,855.7 C405.8,854.2 407.2,854.0 411.7,854.3 C416.1,854.6 420.3,855.1 426.7,857.7 C433.1,860.3 440.6,863.8 450.0,870.0 C459.4,876.2 472.8,885.3 483.3,895.0 C493.9,904.7 502.7,916.1 513.3,928.3 C523.9,940.5 535.6,956.6 546.7,968.3 C557.8,980.0 568.3,989.4 580.0,998.3 C591.7,1007.2 605.6,1014.5 616.7,1021.7 C627.8,1028.9 636.8,1034.7 646.7,1041.7 C656.6,1048.8 667.3,1056.8 676.3,1064.0 C685.3,1071.2 692.5,1079.8 700.5,1085.0 C708.5,1090.2 716.8,1091.8 724.6,1095.0 C732.4,1098.2 743.7,1102.8 747.5,1104.4" fill="none" stroke="#2e9a2e" stroke-width="1.9" stroke-dasharray="5.2 3.6"/>
<rect x="165.5" y="901.3" width="15.6" height="15.2" fill="#000"/>
<rect x="197.9" y="934.2" width="15.6" height="15.2" fill="#000"/>
<rect x="231.5" y="980.2" width="15.6" height="15.2" fill="#000"/>
<rect x="260.5" y="1013.1" width="15.6" height="15.2" fill="#000"/>
<rect x="294.5" y="1085.4" width="15.6" height="15.2" fill="#000"/>
<rect x="321.5" y="1128.1" width="15.6" height="15.2" fill="#000"/>
<rect x="356.5" y="1164.2" width="15.6" height="15.2" fill="#000"/>
<rect x="385.9" y="1213.5" width="15.6" height="15.2" fill="#000"/>
<rect x="419.9" y="1233.3" width="15.6" height="15.2" fill="#000"/>
<rect x="449.9" y="1213.5" width="15.6" height="15.2" fill="#000"/>
<rect x="480.5" y="1187.2" width="15.6" height="15.2" fill="#000"/>
<rect x="513.9" y="1098.5" width="15.6" height="15.2" fill="#000"/>
<rect x="542.9" y="1055.8" width="15.6" height="15.2" fill="#000"/>
<rect x="576.2" y="1032.8" width="15.6" height="15.2" fill="#000"/>
<rect x="608.2" y="970.3" width="15.6" height="15.2" fill="#000"/>
<rect x="641.5" y="934.2" width="15.6" height="15.2" fill="#000"/>
<circle cx="172.7" cy="1143.3" r="8.2" fill="#fff" fill-opacity="0.0" stroke="#f23c3c" stroke-width="1.7"/>
<circle cx="205.3" cy="1106.0" r="8.2" fill="#fff" fill-opacity="0.0" stroke="#f23c3c" stroke-width="1.7"/>
<circle cx="239.3" cy="1087.7" r="8.2" fill="#fff" fill-opacity="0.0" stroke="#f23c3c" stroke-width="1.7"/>
<circle cx="268.3" cy="1063.3" r="8.2" fill="#fff" fill-opacity="0.0" stroke="#f23c3c" stroke-width="1.7"/>
<circle cx="302.3" cy="1050.7" r="8.2" fill="#fff" fill-opacity="0.0" stroke="#f23c3c" stroke-width="1.7"/>
<circle cx="329.3" cy="995.0" r="8.2" fill="#fff" fill-opacity="0.0" stroke="#f23c3c" stroke-width="1.7"/>
<circle cx="364.0" cy="976.7" r="8.2" fill="#fff" fill-opacity="0.0" stroke="#f23c3c" stroke-width="1.7"/>
<circle cx="394.0" cy="945.7" r="8.2" fill="#fff" fill-opacity="0.0" stroke="#f23c3c" stroke-width="1.7"/>
<circle cx="427.3" cy="934.0" r="8.2" fill="#fff" fill-opacity="0.0" stroke="#f23c3c" stroke-width="1.7"/>
<circle cx="457.3" cy="933.7" r="8.2" fill="#fff" fill-opacity="0.0" stroke="#f23c3c" stroke-width="1.7"/>
<circle cx="488.3" cy="958.3" r="8.2" fill="#fff" fill-opacity="0.0" stroke="#f23c3c" stroke-width="1.7"/>
<circle cx="521.0" cy="995.0" r="8.2" fill="#fff" fill-opacity="0.0" stroke="#f23c3c" stroke-width="1.7"/>
<circle cx="550.7" cy="1013.3" r="8.2" fill="#fff" fill-opacity="0.0" stroke="#f23c3c" stroke-width="1.7"/>
<circle cx="583.3" cy="1057.3" r="8.2" fill="#fff" fill-opacity="0.0" stroke="#f23c3c" stroke-width="1.7"/>
<circle cx="616.0" cy="1118.3" r="8.2" fill="#fff" fill-opacity="0.0" stroke="#f23c3c" stroke-width="1.7"/>
<circle cx="648.7" cy="1174.3" r="8.2" fill="#fff" fill-opacity="0.0" stroke="#f23c3c" stroke-width="1.7"/>
<line x1="165.5" y1="900.6" x2="140" y2="900.6" stroke="#000" stroke-width="1.7"/>
<polygon points="127.2,900.6 144,895 144,906.2" fill="#000"/>
<line x1="666.5" y1="1175.2" x2="693" y2="1175.2" stroke="#000" stroke-width="1.5"/>
<polygon points="709.5,1175.2 691,1170 691,1180.4" fill="#000"/>
<text x="2.5" y="786.5" font-size="46" fill="#000" textLength="38" lengthAdjust="spacingAndGlyphs">b)</text>
<line x1="1484.0" y1="819" x2="1484.0" y2="1242.5" stroke="#4a6ed0" stroke-width="1.9"/>
<line x1="1502.7" y1="819" x2="1502.7" y2="1242.5" stroke="#f5924a" stroke-width="1.9"/>
<line x1="1521.7" y1="819" x2="1521.7" y2="1242.5" stroke="#3a3a3a" stroke-width="1.9"/>
<line x1="1540.7" y1="819" x2="1540.7" y2="1242.5" stroke="#6cc04c" stroke-width="1.9"/>
<line x1="1559.3" y1="819" x2="1559.3" y2="1242.5" stroke="#5fc6e0" stroke-width="1.9"/>
<line x1="1578.3" y1="819" x2="1578.3" y2="1242.5" stroke="#b565c2" stroke-width="1.9"/>
<line x1="1594.0" y1="819" x2="1594.0" y2="1242.5" stroke="#9a9a9a" stroke-width="1.9"/>
<line x1="1616.0" y1="819" x2="1616.0" y2="1242.5" stroke="#a060c0" stroke-width="1.9"/>
<line x1="1635.0" y1="819" x2="1635.0" y2="1242.5" stroke="#2a9a9a" stroke-width="1.9"/>
<line x1="1654.3" y1="819" x2="1654.3" y2="1242.5" stroke="#a03a3a" stroke-width="1.9"/>
<path d="M1283.3,1198.3 L1288.3,1190.7 L1296.7,1183.3 L1306.0,1168.3 L1311.7,1169.3 L1320.0,1156.7 L1328.3,1143.3 L1335.0,1141.7 L1341.7,1146.7 L1349.3,1133.3 L1357.3,1103.3 L1365.0,1088.3 L1371.7,1090.0 L1380.0,1063.3 L1388.3,1033.3 L1396.7,1015.0 L1405.0,996.7 L1411.7,983.3 L1418.3,956.7 L1425.0,930.0 L1433.3,910.0 L1441.7,895.0 L1448.3,887.3 L1456.7,887.3 L1465.0,876.7 L1471.7,866.0 L1478.3,864.3 L1485.0,869.0 L1493.3,868.3 L1501.7,858.3 L1508.3,857.3 L1516.7,860.0 L1523.3,853.3 L1531.7,852.7 L1540.0,863.3 L1547.7,871.7 L1555.0,862.7 L1561.7,856.0 L1568.3,859.3 L1576.7,868.3 L1585.0,876.0 L1591.7,868.3 L1600.0,851.7 L1608.3,851.7 L1616.7,863.3 L1626.7,866.0 L1636.7,866.7 L1645.0,871.7 L1653.3,885.0 L1661.7,905.0 L1670.0,915.0 L1676.0,919.3 L1683.3,938.3 L1691.7,955.0 L1706.0,952.7 L1713.3,970.0 L1721.7,990.0 L1729.3,1004.0 L1736.7,1002.7 L1745.0,1011.7 L1752.7,1018.3 L1760.0,1021.7 L1767.3,1035.0 L1775.0,1036.0 L1782.7,1046.0 L1790.0,1055.0 L1797.3,1052.7 L1805.0,1066.7 L1813.3,1086.0 L1821.7,1087.3 L1830.0,1090.0 L1837.3,1089.3 L1845.0,1095.0 L1852.7,1102.7 L1860.0,1103.3 L1867.3,1108.3 L1875.0,1114.3 L1881.7,1119.3 L1888.3,1113.3 L1893.3,1130.0" fill="none" stroke="#5f82d4" stroke-width="1.9" stroke-linejoin="round"/>
<path d="M1484.0,913.3 L1502.7,952.7 L1521.7,957.7 L1540.7,962.7 L1559.3,973.3 L1578.3,958.3 L1594.0,934.0 L1616.0,952.7 L1635.0,931.7 L1654.3,935.7 L1693,936.5" fill="none" stroke="#ff5a5a" stroke-width="1.6"/>
<path d="M1683,931 L1696,936.5 L1683,942" fill="none" stroke="#ff5a5a" stroke-width="1.6"/>
<path d="M1484.0,1103.3 L1502.7,1131.7 L1521.7,1127.3 L1540.7,1118.3 L1559.3,1118.3 L1578.3,1105.0 L1594.0,1110.0 L1616.0,1116.0 L1635.0,1118.3 L1654.3,1110.0 L1694,1110" fill="none" stroke="#333" stroke-width="1.6"/>
<path d="M1682,1104.5 L1695,1110 L1682,1115.5" fill="none" stroke="#333" stroke-width="1.6"/>
<path d="M1415,936.7 L1371,936.7 M1383,931 L1370,936.7 L1383,942.4" fill="none" stroke="#5578cf" stroke-width="1.6"/>
<circle cx="1483.3" cy="1060.7" r="5.8" fill="#7a1616"/>
<circle cx="1502.3" cy="1097.3" r="5.8" fill="#7a1616"/>
<circle cx="1521.3" cy="944.3" r="5.8" fill="#7a1616"/>
<circle cx="1540.3" cy="915.7" r="5.8" fill="#7a1616"/>
<circle cx="1559.3" cy="912.7" r="5.8" fill="#7a1616"/>
<circle cx="1578.3" cy="975.3" r="5.8" fill="#7a1616"/>
<circle cx="1594.0" cy="1015.0" r="5.8" fill="#7a1616"/>
<circle cx="1616.0" cy="884.0" r="5.8" fill="#7a1616"/>
<circle cx="1635.0" cy="1006.7" r="5.8" fill="#7a1616"/>
<circle cx="1654.3" cy="1063.0" r="5.8" fill="#7a1616"/>
<line x1="1283.3" y1="1237.3" x2="1893.3" y2="1237.3" stroke="#e8956a" stroke-width="1" stroke-dasharray="3 2"/>
<line x1="1283.3" y1="1240" x2="1893.3" y2="1240" stroke="#20306e" stroke-width="3.4"/>
<rect x="1283.3" y="797.3" width="610.0" height="445.2" fill="none" stroke="#333" stroke-width="2"/>
<line x1="1283.3" y1="1242.5" x2="1301.3" y2="1242.5" stroke="#333" stroke-width="1.6"/>
<line x1="1283.3" y1="1221.3" x2="1294.8" y2="1221.3" stroke="#333" stroke-width="1.6"/>
<line x1="1283.3" y1="1200.2" x2="1294.8" y2="1200.2" stroke="#333" stroke-width="1.6"/>
<line x1="1283.3" y1="1179.0" x2="1294.8" y2="1179.0" stroke="#333" stroke-width="1.6"/>
<line x1="1283.3" y1="1157.8" x2="1294.8" y2="1157.8" stroke="#333" stroke-width="1.6"/>
<line x1="1283.3" y1="1136.6" x2="1301.3" y2="1136.6" stroke="#333" stroke-width="1.6"/>
<line x1="1283.3" y1="1115.5" x2="1294.8" y2="1115.5" stroke="#333" stroke-width="1.6"/>
<line x1="1283.3" y1="1094.3" x2="1294.8" y2="1094.3" stroke="#333" stroke-width="1.6"/>
<line x1="1283.3" y1="1073.1" x2="1294.8" y2="1073.1" stroke="#333" stroke-width="1.6"/>
<line x1="1283.3" y1="1051.9" x2="1294.8" y2="1051.9" stroke="#333" stroke-width="1.6"/>
<line x1="1283.3" y1="1030.8" x2="1301.3" y2="1030.8" stroke="#333" stroke-width="1.6"/>
<line x1="1283.3" y1="1009.6" x2="1294.8" y2="1009.6" stroke="#333" stroke-width="1.6"/>
<line x1="1283.3" y1="988.4" x2="1294.8" y2="988.4" stroke="#333" stroke-width="1.6"/>
<line x1="1283.3" y1="967.2" x2="1294.8" y2="967.2" stroke="#333" stroke-width="1.6"/>
<line x1="1283.3" y1="946.0" x2="1294.8" y2="946.0" stroke="#333" stroke-width="1.6"/>
<line x1="1283.3" y1="924.9" x2="1301.3" y2="924.9" stroke="#333" stroke-width="1.6"/>
<line x1="1283.3" y1="903.7" x2="1294.8" y2="903.7" stroke="#333" stroke-width="1.6"/>
<line x1="1283.3" y1="882.5" x2="1294.8" y2="882.5" stroke="#333" stroke-width="1.6"/>
<line x1="1283.3" y1="861.3" x2="1294.8" y2="861.3" stroke="#333" stroke-width="1.6"/>
<line x1="1283.3" y1="840.2" x2="1294.8" y2="840.2" stroke="#333" stroke-width="1.6"/>
<line x1="1283.3" y1="819.0" x2="1301.3" y2="819.0" stroke="#333" stroke-width="1.6"/>
<text x="1267" y="831.0" font-size="34.5" text-anchor="end" fill="#111">2.0</text>
<text x="1267" y="936.9" font-size="34.5" text-anchor="end" fill="#111">1.5</text>
<text x="1267" y="1042.8" font-size="34.5" text-anchor="end" fill="#111">1.0</text>
<text x="1267" y="1148.6" font-size="34.5" text-anchor="end" fill="#111">0.5</text>
<text x="1267" y="1252.8" font-size="34.5" text-anchor="end" fill="#111">0</text>
<line x1="1893.3" y1="1242.5" x2="1876.3" y2="1242.5" stroke="#333" stroke-width="1.6"/>
<text x="1909" y="1252.8" font-size="34.5" fill="#111">0</text>
<line x1="1893.3" y1="1198.0" x2="1881.8" y2="1198.0" stroke="#333" stroke-width="1.6"/>
<line x1="1893.3" y1="1153.5" x2="1876.3" y2="1153.5" stroke="#333" stroke-width="1.6"/>
<text x="1909" y="1165.5" font-size="34.5" fill="#111">200</text>
<line x1="1893.3" y1="1108.9" x2="1881.8" y2="1108.9" stroke="#333" stroke-width="1.6"/>
<line x1="1893.3" y1="1064.4" x2="1876.3" y2="1064.4" stroke="#333" stroke-width="1.6"/>
<text x="1909" y="1076.4" font-size="34.5" fill="#111">400</text>
<line x1="1893.3" y1="1019.9" x2="1881.8" y2="1019.9" stroke="#333" stroke-width="1.6"/>
<line x1="1893.3" y1="975.4" x2="1876.3" y2="975.4" stroke="#333" stroke-width="1.6"/>
<text x="1909" y="987.4" font-size="34.5" fill="#111">600</text>
<line x1="1893.3" y1="930.9" x2="1881.8" y2="930.9" stroke="#333" stroke-width="1.6"/>
<line x1="1893.3" y1="886.3" x2="1876.3" y2="886.3" stroke="#333" stroke-width="1.6"/>
<text x="1909" y="898.3" font-size="34.5" fill="#111">800</text>
<line x1="1893.3" y1="841.8" x2="1881.8" y2="841.8" stroke="#333" stroke-width="1.6"/>
<line x1="1893.3" y1="797.3" x2="1876.3" y2="797.3" stroke="#333" stroke-width="1.6"/>
<text x="1909" y="809.3" font-size="34.5" fill="#111">1000</text>
<line x1="1286.3" y1="797.3" x2="1286.3" y2="807.3" stroke="#333" stroke-width="1.6"/>
<line x1="1286.3" y1="1242.5" x2="1286.3" y2="1233.5" stroke="#333" stroke-width="1.6"/>
<line x1="1316.0" y1="797.3" x2="1316.0" y2="807.3" stroke="#333" stroke-width="1.6"/>
<line x1="1316.0" y1="1242.5" x2="1316.0" y2="1233.5" stroke="#333" stroke-width="1.6"/>
<line x1="1345.7" y1="797.3" x2="1345.7" y2="807.3" stroke="#333" stroke-width="1.6"/>
<line x1="1345.7" y1="1242.5" x2="1345.7" y2="1233.5" stroke="#333" stroke-width="1.6"/>
<line x1="1375.3" y1="797.3" x2="1375.3" y2="807.3" stroke="#333" stroke-width="1.6"/>
<line x1="1375.3" y1="1242.5" x2="1375.3" y2="1233.5" stroke="#333" stroke-width="1.6"/>
<line x1="1405.0" y1="797.3" x2="1405.0" y2="814.3" stroke="#333" stroke-width="1.6"/>
<line x1="1405.0" y1="1242.5" x2="1405.0" y2="1226.5" stroke="#333" stroke-width="1.6"/>
<line x1="1434.7" y1="797.3" x2="1434.7" y2="807.3" stroke="#333" stroke-width="1.6"/>
<line x1="1434.7" y1="1242.5" x2="1434.7" y2="1233.5" stroke="#333" stroke-width="1.6"/>
<line x1="1464.3" y1="797.3" x2="1464.3" y2="807.3" stroke="#333" stroke-width="1.6"/>
<line x1="1464.3" y1="1242.5" x2="1464.3" y2="1233.5" stroke="#333" stroke-width="1.6"/>
<line x1="1494.0" y1="797.3" x2="1494.0" y2="807.3" stroke="#333" stroke-width="1.6"/>
<line x1="1494.0" y1="1242.5" x2="1494.0" y2="1233.5" stroke="#333" stroke-width="1.6"/>
<line x1="1523.7" y1="797.3" x2="1523.7" y2="807.3" stroke="#333" stroke-width="1.6"/>
<line x1="1523.7" y1="1242.5" x2="1523.7" y2="1233.5" stroke="#333" stroke-width="1.6"/>
<line x1="1553.3" y1="797.3" x2="1553.3" y2="814.3" stroke="#333" stroke-width="1.6"/>
<line x1="1553.3" y1="1242.5" x2="1553.3" y2="1226.5" stroke="#333" stroke-width="1.6"/>
<line x1="1583.0" y1="797.3" x2="1583.0" y2="807.3" stroke="#333" stroke-width="1.6"/>
<line x1="1583.0" y1="1242.5" x2="1583.0" y2="1233.5" stroke="#333" stroke-width="1.6"/>
<line x1="1612.7" y1="797.3" x2="1612.7" y2="807.3" stroke="#333" stroke-width="1.6"/>
<line x1="1612.7" y1="1242.5" x2="1612.7" y2="1233.5" stroke="#333" stroke-width="1.6"/>
<line x1="1642.3" y1="797.3" x2="1642.3" y2="807.3" stroke="#333" stroke-width="1.6"/>
<line x1="1642.3" y1="1242.5" x2="1642.3" y2="1233.5" stroke="#333" stroke-width="1.6"/>
<line x1="1672.0" y1="797.3" x2="1672.0" y2="807.3" stroke="#333" stroke-width="1.6"/>
<line x1="1672.0" y1="1242.5" x2="1672.0" y2="1233.5" stroke="#333" stroke-width="1.6"/>
<line x1="1701.7" y1="797.3" x2="1701.7" y2="814.3" stroke="#333" stroke-width="1.6"/>
<line x1="1701.7" y1="1242.5" x2="1701.7" y2="1226.5" stroke="#333" stroke-width="1.6"/>
<line x1="1731.3" y1="797.3" x2="1731.3" y2="807.3" stroke="#333" stroke-width="1.6"/>
<line x1="1731.3" y1="1242.5" x2="1731.3" y2="1233.5" stroke="#333" stroke-width="1.6"/>
<line x1="1761.0" y1="797.3" x2="1761.0" y2="807.3" stroke="#333" stroke-width="1.6"/>
<line x1="1761.0" y1="1242.5" x2="1761.0" y2="1233.5" stroke="#333" stroke-width="1.6"/>
<line x1="1790.7" y1="797.3" x2="1790.7" y2="807.3" stroke="#333" stroke-width="1.6"/>
<line x1="1790.7" y1="1242.5" x2="1790.7" y2="1233.5" stroke="#333" stroke-width="1.6"/>
<line x1="1820.3" y1="797.3" x2="1820.3" y2="807.3" stroke="#333" stroke-width="1.6"/>
<line x1="1820.3" y1="1242.5" x2="1820.3" y2="1233.5" stroke="#333" stroke-width="1.6"/>
<line x1="1850.0" y1="797.3" x2="1850.0" y2="814.3" stroke="#333" stroke-width="1.6"/>
<line x1="1850.0" y1="1242.5" x2="1850.0" y2="1226.5" stroke="#333" stroke-width="1.6"/>
<line x1="1879.7" y1="797.3" x2="1879.7" y2="807.3" stroke="#333" stroke-width="1.6"/>
<line x1="1879.7" y1="1242.5" x2="1879.7" y2="1233.5" stroke="#333" stroke-width="1.6"/>
<text x="1403.5" y="1286" font-size="34.5" text-anchor="middle" fill="#111">950</text>
<text x="1551.8" y="1286" font-size="34.5" text-anchor="middle" fill="#111">1100</text>
<text x="1700.2" y="1286" font-size="34.5" text-anchor="middle" fill="#111">1250</text>
<text x="1848.5" y="1286" font-size="34.5" text-anchor="middle" fill="#111">1400</text>
<text x="1437.5" y="1366" font-size="35" fill="#111" textLength="300" lengthAdjust="spacingAndGlyphs">wavenumber [cm<tspan font-size="22" dy="-17">-1</tspan><tspan dy="17">]</tspan></text>
<text transform="translate(1169.5 1234) rotate(-90)" font-size="34.5" fill="#111" textLength="429" lengthAdjust="spacingAndGlyphs">Power [mW], Intensity (a.u.)</text>
<text transform="translate(2057.5 1117) rotate(-90)" font-size="34.5" fill="#111" textLength="193" lengthAdjust="spacingAndGlyphs">Current [mA]</text>
<line x1="1706.7" y1="831.7" x2="1740" y2="831.7" stroke="#5578cf" stroke-width="1.7"/>
<text x="1756.5" y="838.5" font-size="24.5" fill="#333" textLength="118" lengthAdjust="spacingAndGlyphs">Electrolum</text>
<circle cx="1723.3" cy="860" r="2.8" fill="#7a1616"/>
<text x="1756.5" y="867" font-size="24.5" fill="#333">Power</text>
<line x1="1706.7" y1="888.3" x2="1740" y2="888.3" stroke="#333" stroke-width="1.6"/>
<text x="1756.5" y="895" font-size="24.5" fill="#333">I</text><text x="1763.5" y="906" font-size="15" fill="#666">thres</text>
<line x1="1706.7" y1="916.7" x2="1740" y2="916.7" stroke="#ff5a5a" stroke-width="1.6"/>
<text x="1756.5" y="923.5" font-size="24.5" fill="#333">I</text><text x="1763.5" y="934.5" font-size="15" fill="#666">max</text>
<text x="996.5" y="782" font-size="46" fill="#000" textLength="39.5" lengthAdjust="spacingAndGlyphs">d)</text>
</svg>
</body></html>
